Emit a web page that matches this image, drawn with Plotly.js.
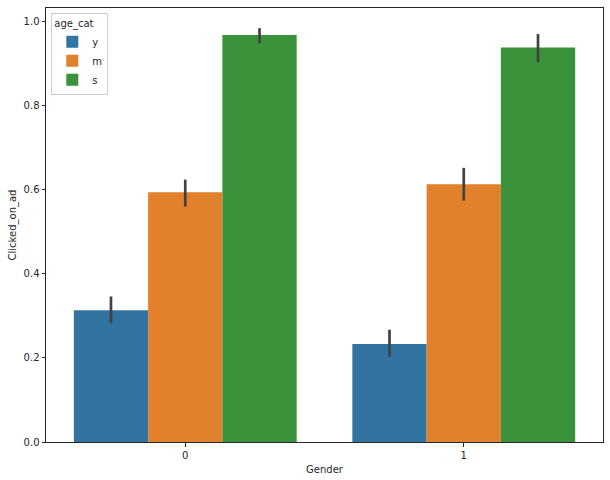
<!DOCTYPE html>
<html>
<head>
<meta charset="utf-8">
<script src="https://cdn.plot.ly/plotly-3.0.1.min.js"></script>
<style>html,body{margin:0;padding:0;background:#fff}</style>
</head>
<body>
<div id="chart" style="width:610px;height:480px"></div>
<script>
const genders = [0, 1];
const groupNames = ["y", "m", "s"];
const colors = ["#3274a1", "#e1812c", "#3a923a"];
const yValues = [0.313, 0.233];
const yLow = [0.283, 0.203];
const yHigh = [0.346, 0.267];
const mValues = [0.594, 0.613];
const mLow = [0.560, 0.574];
const mHigh = [0.624, 0.652];
const sValues = [0.968, 0.938];
const sLow = [0.948, 0.903];
const sHigh = [0.984, 0.970];

const series = [[yValues, yLow, yHigh], [mValues, mLow, mHigh], [sValues, sLow, sHigh]];
const traces = series.map(function (s, i) {
  return {
    type: "bar",
    name: groupNames[i],
    x: genders,
    y: s[0],
    marker: {color: colors[i], line: {width: 0}},
    error_y: {
      type: "data",
      symmetric: false,
      array: s[2].map(function (h, k) { return h - s[0][k]; }),
      arrayminus: s[0].map(function (v, k) { return v - s[1][k]; }),
      color: "#424242",
      thickness: 2.7,
      width: 0
    },
    hoverinfo: "x+y"
  };
});

const tickFont = {family: "DejaVu Sans", size: 10, color: "#262626"};
const layout = {
  width: 610,
  height: 480,
  paper_bgcolor: "#fff",
  plot_bgcolor: "#fff",
  barmode: "group",
  bargap: 0.2,
  bargroupgap: 0,
  showlegend: true,
  margin: {l: 45.5, r: 6.5, t: 7.5, b: 38, pad: 0},
  font: tickFont,
  xaxis: {
    range: [-0.5, 1.5],
    tickmode: "array",
    tickvals: genders,
    ticktext: genders.map(String),
    ticks: "outside",
    ticklen: 3.5,
    tickwidth: 1,
    tickcolor: "#262626",
    showgrid: false,
    zeroline: false,
    showline: true,
    mirror: true,
    linecolor: "#262626",
    linewidth: 1,
    tickfont: tickFont,
    title: {text: "Gender", font: tickFont, standoff: 6}
  },
  yaxis: {
    range: [0, 1.032],
    tickmode: "array",
    tickvals: [0, 0.2, 0.4, 0.6, 0.8, 1],
    ticktext: ["0.0", "0.2", "0.4", "0.6", "0.8", "1.0"],
    ticks: "outside",
    ticklen: 3.5,
    tickwidth: 1,
    tickcolor: "#262626",
    showgrid: false,
    zeroline: false,
    showline: true,
    mirror: true,
    linecolor: "#262626",
    linewidth: 1,
    tickfont: tickFont,
    title: {text: "Clicked_on_ad", font: tickFont, standoff: 5}
  },
  legend: {
    x: 0.0095,
    xanchor: "left",
    y: 0.988,
    yanchor: "top",
    bgcolor: "rgba(255,255,255,0.8)",
    bordercolor: "#cccccc",
    borderwidth: 1,
    font: tickFont,
    title: {text: "age_cat", font: tickFont},
    itemwidth: 30,
    tracegroupgap: 0,
    traceorder: "normal"
  }
};
Plotly.newPlot("chart", traces, layout, {displayModeBar: false, staticPlot: true});
</script>
</body>
</html>
